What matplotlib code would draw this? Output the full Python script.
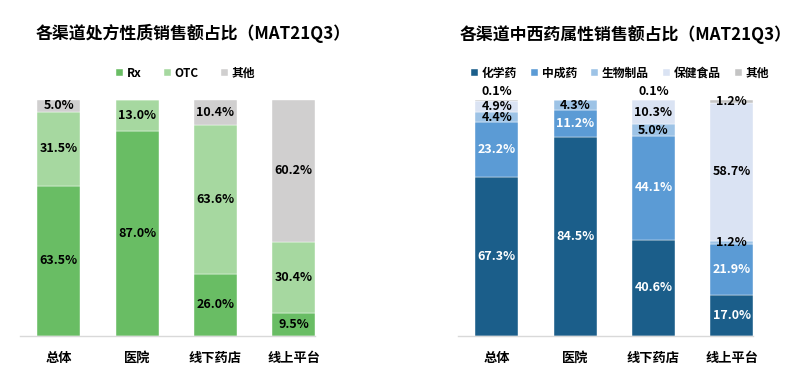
import matplotlib
matplotlib.use('Agg')
import matplotlib.pyplot as plt
import numpy as np

plt.rcParams['font.family'] = ['Noto Sans CJK SC', 'DejaVu Sans']

channels = ['总体', '医院', '线下药店', '线上平台']

# left chart: 处方性质
left_title = '各渠道处方性质销售额占比（MAT21Q3）'
left_series = ['Rx', 'OTC', '其他']
rx = [63.5, 87.0, 26.0, 9.5]
otc = [31.5, 13.0, 63.6, 30.4]
rx_other = [5.0, 0.0, 10.4, 60.2]
left_colors = ['#69bd64', '#a6d8a0', '#d0cfcf']

# right chart: 中西药属性
right_title = '各渠道中西药属性销售额占比（MAT21Q3）'
right_series = ['化学药', '中成药', '生物制品', '保健食品', '其他']
chem = [67.3, 84.5, 40.6, 17.0]
tcm = [23.2, 11.2, 44.1, 21.9]
bio = [4.4, 4.3, 5.0, 1.2]
health = [4.9, 0.0, 10.3, 58.7]
med_other = [0.1, 0.0, 0.1, 1.2]
right_colors = ['#1b5e8a', '#5b9bd5', '#9dc3e6', '#dae3f3', '#c4c4c4']
right_text = ['white', 'white', 'black', 'black', 'black']

fig = plt.figure(figsize=(8, 3.81), dpi=100)
ax1 = fig.add_axes([0.025, 0.1194, 0.369, 0.618])
ax2 = fig.add_axes([0.5725, 0.1194, 0.369, 0.618])

x = np.arange(len(channels))
width = 0.55


def draw(ax, data, names, colors, text_colors):
    bottom = np.zeros(len(channels))
    for vals, name, col, tc in zip(data, names, colors, text_colors):
        vals = np.array(vals)
        ax.bar(x, vals, width, bottom=bottom, color=col, label=name,
               edgecolor='white', linewidth=0.3)
        for i, v in enumerate(vals):
            if v <= 0:
                continue
            if v < 1:
                # tiny slice: label above the bar
                ax.text(x[i], bottom[i] + v + 0.8, f'{v:.1f}%', ha='center', va='bottom',
                        fontsize=9, fontweight='bold', color='black')
            else:
                ax.text(x[i], bottom[i] + v / 2, f'{v:.1f}%', ha='center', va='center',
                        fontsize=9, fontweight='bold', color=tc)
        bottom += vals
    ax.set_ylim(0, 100)
    ax.set_xlim(-0.495, 3.275)
    for s in ['top', 'right', 'left']:
        ax.spines[s].set_visible(False)
    ax.spines['bottom'].set_color('#d9d9d9')
    ax.spines['bottom'].set_linewidth(1)
    ax.set_yticks([])
    ax.set_xticks(x)
    ax.set_xticklabels(channels, fontsize=9.5, fontweight='bold')
    ax.tick_params(axis='x', length=0, pad=11)


draw(ax1, [rx, otc, rx_other], left_series, left_colors, ['black'] * 3)
draw(ax2, [chem, tcm, bio, health, med_other], right_series, right_colors, right_text)

fig.text(0.241, 0.913, left_title, ha='center', va='center', fontsize=12.2, fontweight='bold')
fig.text(0.782, 0.91, right_title, ha='center', va='center', fontsize=12.2, fontweight='bold')

leg_kw = dict(loc='center', bbox_transform=fig.transFigure, frameon=False,
              prop={'size': 8.5, 'weight': 'bold'}, handlelength=0.6, handleheight=0.6,
              handletextpad=0.3)
ax1.legend(bbox_to_anchor=(0.232, 0.808), ncol=3, columnspacing=1.9, **leg_kw)
ax2.legend(bbox_to_anchor=(0.775, 0.808), ncol=5, columnspacing=1.2, **leg_kw)

plt.savefig('out.png', dpi=100)
plt.close()
